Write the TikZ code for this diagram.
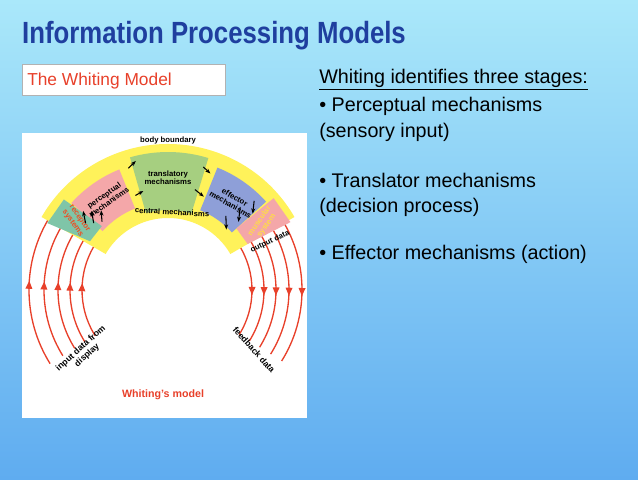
\documentclass[tikz,border=0pt]{standalone}
\usepackage{fontspec}
\setmainfont{Liberation Sans}
\usetikzlibrary{decorations.markings,arrows.meta}
\definecolor{ttl}{HTML}{1F3F9F}
\definecolor{redd}{HTML}{E8402A}
\definecolor{yel}{HTML}{FFF25A}
\definecolor{pinkk}{HTML}{F4A7A9}
\definecolor{grn}{HTML}{A6CF80}
\definecolor{blu}{HTML}{8E9FD8}
\definecolor{teal2}{HTML}{7FC5A8}
\tikzset{
 lbl/.style={font=\bfseries\fontsize{5.8}{6.3}\selectfont,align=center,inner sep=0pt},
 body/.style={font=\fontsize{14.8}{16}\selectfont,anchor=west,inner sep=0pt},
 redarc/.style={redd,line width=1pt,postaction={decorate}},
 upmark/.style={decoration={markings,mark=at position #1 with {\fill[redd] (3,0)--(-5,3.5)--(-5,-3.5)--cycle;}}},
 blk/.style={-{Stealth[length=4pt]},line width=0.8pt}
}
\begin{document}
\begin{tikzpicture}[x=0.75pt,y=-0.75pt]
\shade[top color={rgb,255:red,170;green,232;blue,250},bottom color={rgb,255:red,95;green,172;blue,240}] (0,0) rectangle (638,479);
\useasboundingbox (0,0) rectangle (638,479);
\node[anchor=west,inner sep=0pt,text=ttl,font=\bfseries\fontsize{23}{25}\selectfont,xscale=0.84] (title) at (22,36) {Information Processing Models};
\node[draw=gray!60,fill=white,minimum width=152pt,minimum height=23pt,anchor=north west,inner sep=0pt] (box) at (22,64) {};
\node[anchor=west,text=redd,font=\fontsize{13}{15}\selectfont,inner sep=0pt] (boxt) at (27,81) {The Whiting Model};
\node[body] (t1) at (319,80) {\underline{Whiting identifies three stages:}};
\node[body] (t2) at (319,106) {\textbullet\ Perceptual mechanisms};
\node[body] (t3) at (319,132) {(sensory input)};
\node[body] (t4) at (319,180) {\textbullet\ Translator mechanisms};
\node[body] (t5) at (319,207) {(decision process)};
\node[body] (t6) at (319,254) {\textbullet\ Effector mechanisms (action)};
\fill[white] (22,133) rectangle (307,418);
\begin{scope}[shift={(168,290)},yscale=-1]
 \foreach \r in {86,98,110,124,139}{
  \draw[redarc,upmark=0.54] (212:\r) arc (212:148:\r);}
 \foreach \r in {84,96,108,121,134}{
  \draw[redarc,upmark=0.52] (32:\r) arc (32:-32:\r);}
 \fill[yel] (30:146) arc (30:150:146) -- (150:72) arc (150:30:72) -- cycle;
 \fill[pinkk] (112:88) arc (112:138:88) -- (138:130) arc (138:112:130) -- cycle;
 \fill[grn] (73:80) arc (73:106:80) -- (106:138) arc (106:73:138) -- cycle;
 \fill[blu] (42:86) arc (42:68:86) -- (68:132) arc (68:42:132) -- cycle;
 \fill[teal2] (136:92) -- (148:92) -- (151:138) -- (139:138) -- cycle;
 \fill[pinkk] (30:92) -- (42:92) -- (41:140) -- (29:140) -- cycle;
 \node[lbl] (bb) at (90:150) {body boundary};
 \node[lbl,rotate=-3] (cm) at (87:78) {central mechanisms};
 \node[lbl,rotate=35] (pm) at (124:110) {perceptual\\mechanisms};
 \node[lbl] (tm) at (90:112) {translatory\\mechanisms};
 \node[lbl,rotate=-30] (em) at (54:110) {effector\\mechanisms};
 \node[lbl,rotate=-55,text=redd!80!orange] (rs) at (143:115) {receptor\\systems};
 \node[lbl,rotate=55,text=yel!80!orange] (ms) at (35:116) {muscular\\system};
 \draw[blk] (134:95) -- (130:104);
 \draw[blk] (138:100) -- (134:110);
 \draw[blk] (141:106) -- (137:116);
 \draw[blk] (108:128) -- (104:133);
 \draw[blk] (109:100) -- (104:102);
 \draw[blk] (74:128) -- (70:124);
 \draw[blk] (75:104) -- (69:100);
 \draw[blk] (46:124) -- (42:114);
 \draw[blk] (49:110) -- (44:98);
 \draw[blk] (52:94) -- (46:84);
\end{scope}
\node[lbl,rotate=25] (out) at (270,242) {output data};
\node[lbl,rotate=42,font=\bfseries\fontsize{6.5}{7}\selectfont] (inp) at (84,352) {input data from\\display};
\node[lbl,rotate=-48,font=\bfseries\fontsize{6.5}{7}\selectfont] (fb) at (254,350) {feedback data};
\node[lbl,text=redd,font=\bfseries\fontsize{8}{9}\selectfont] (wm) at (163,395) {Whiting's model};
\end{tikzpicture}
\end{document}
